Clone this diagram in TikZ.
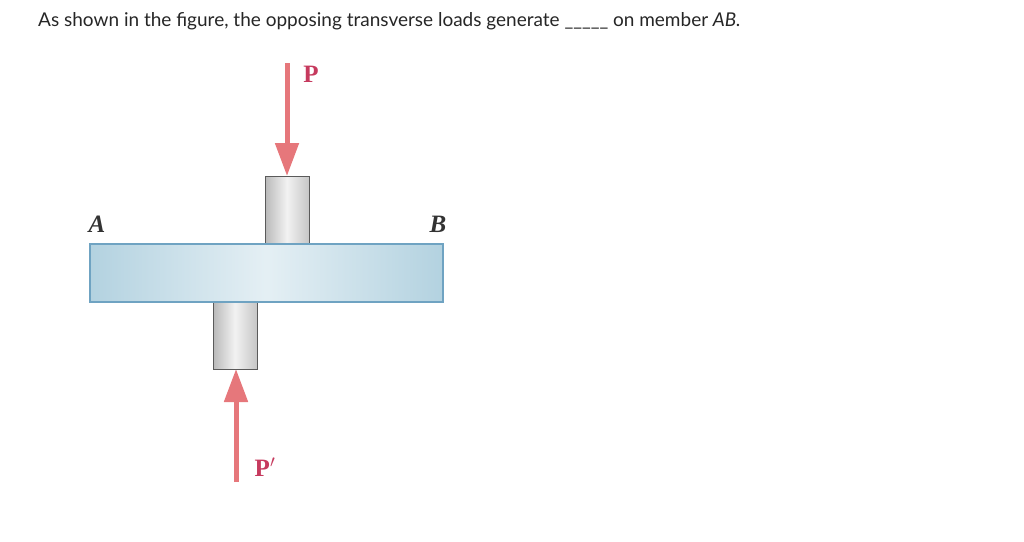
\documentclass[tikz,border=0pt]{standalone}
\usepackage{fontspec}
\setmainfont{Lato}
\newfontfamily\serifb{Liberation Serif}
\definecolor{arr}{HTML}{E6777B}
\definecolor{lab}{HTML}{C63A5E}
\definecolor{beamf}{HTML}{B3D2E0}
\definecolor{beamd}{HTML}{6FA3C2}
\definecolor{blkd}{HTML}{5A5A5A}
\tikzset{
  load/.style={draw=arr,line width=5pt,-{Triangle[length=33pt,width=23pt]},color=arr},
  blk/.style={draw=blkd,line width=1pt,left color=gray!55,right color=gray!45,middle color=gray!10},
  lbl/.style={font=\serifb\bfseries\fontsize{25}{25}\selectfont,text=lab},
  end/.style={font=\serifb\bfseries\itshape\fontsize{25}{25}\selectfont,text=black!80}
}
\usetikzlibrary{arrows.meta}
\begin{document}
\begin{tikzpicture}[x=1pt,y=-1pt]
\useasboundingbox (0,0) rectangle (1024,541);
\node[anchor=west,font=\fontsize{19}{20}\selectfont,text=black!85,inner sep=0] (q) at (38,21) {As shown in the figure, the opposing transverse loads generate \_\_\_\_\_ on member \textit{AB.}};
\filldraw[blk] (265,176) rectangle (309,244);
\filldraw[blk] (213,302) rectangle (257,369);
\shade[left color=beamf,right color=beamf,middle color=beamf!35] (90,244) rectangle (443,302);
\draw[draw=beamd,line width=1.2pt] (90,244) rectangle (443,302);
\coordinate (ptop) at (287,63);
\coordinate (ptip) at (287,176);
\coordinate (pbot) at (236,482);
\coordinate (pbtip) at (236,369);
\draw[load] (ptop) -- (ptip);
\draw[load] (pbot) -- (pbtip);
\node[lbl] (P) at (311,74) {P};
\node[lbl] (Pp) at (265,467) {P$'$};
\node[end] (A) at (97,224) {A};
\node[end] (B) at (438,224) {B};
\end{tikzpicture}
\end{document}
